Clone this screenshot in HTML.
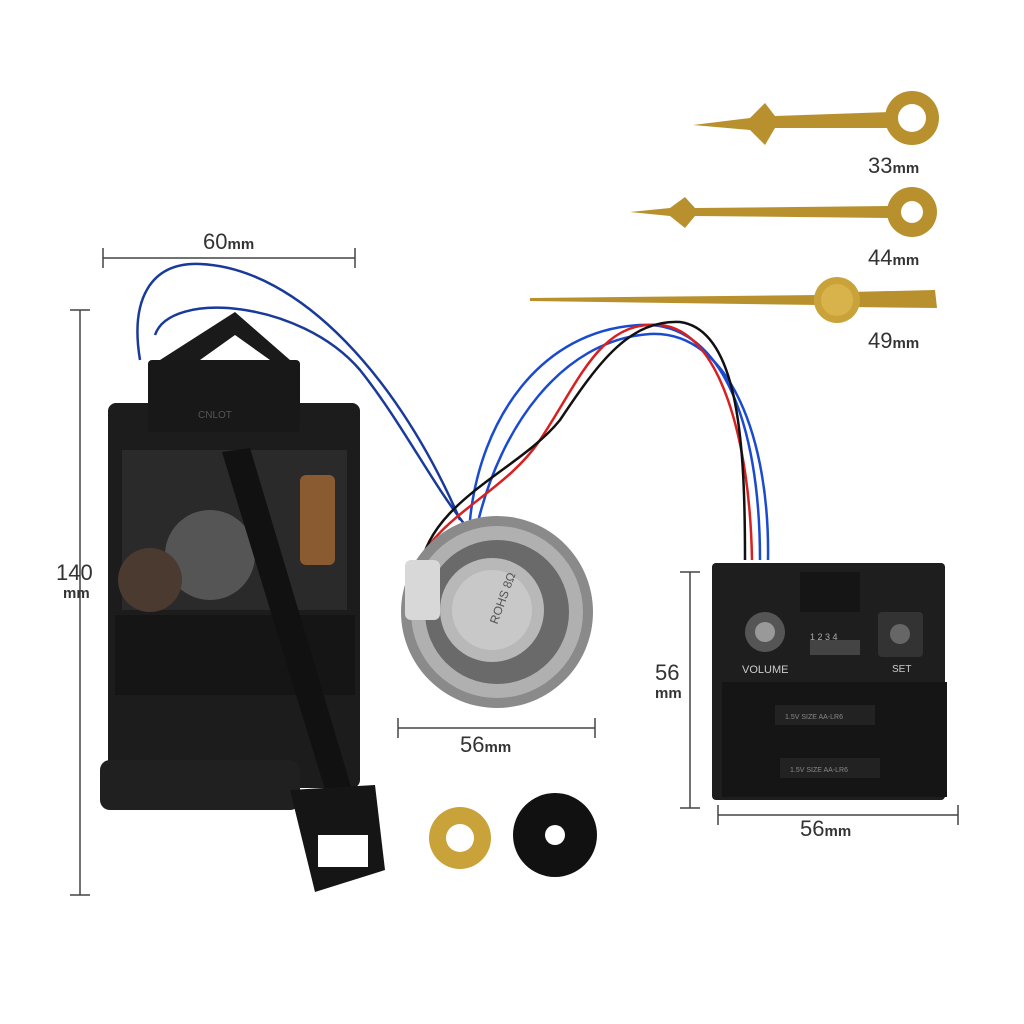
<!DOCTYPE html>
<html><head><meta charset="utf-8"><style>
html,body{margin:0;padding:0;background:#fff;}
svg{display:block;}
text{font-family:"Liberation Sans",sans-serif;fill:#333;}
</style></head><body>
<svg width="1024" height="1024" viewBox="0 0 1024 1024" xmlns="http://www.w3.org/2000/svg">
<rect width="1024" height="1024" fill="#fff"/>
<!-- dimension lines -->
<g stroke="#444" stroke-width="1.5" fill="none">
<line x1="103" y1="258" x2="355" y2="258"/><line x1="103" y1="248" x2="103" y2="268"/><line x1="355" y1="248" x2="355" y2="268"/>
<line x1="80" y1="310" x2="80" y2="895"/><line x1="70" y1="310" x2="90" y2="310"/><line x1="70" y1="895" x2="90" y2="895"/>
<line x1="398" y1="728" x2="595" y2="728"/><line x1="398" y1="718" x2="398" y2="738"/><line x1="595" y1="718" x2="595" y2="738"/>
<line x1="690" y1="572" x2="690" y2="808"/><line x1="680" y1="572" x2="700" y2="572"/><line x1="680" y1="808" x2="700" y2="808"/>
<line x1="718" y1="815" x2="958" y2="815"/><line x1="718" y1="805" x2="718" y2="825"/><line x1="958" y1="805" x2="958" y2="825"/>
</g>
<text x="203" y="249" font-size="22">60<tspan font-size="15" font-weight="bold">mm</tspan></text>
<text x="56" y="580" font-size="22">140</text><text x="63" y="598" font-size="15" font-weight="bold">mm</text>
<text x="460" y="752" font-size="22">56<tspan font-size="15" font-weight="bold">mm</tspan></text>
<text x="655" y="680" font-size="22">56</text><text x="655" y="698" font-size="15" font-weight="bold">mm</text>
<text x="800" y="836" font-size="22">56<tspan font-size="15" font-weight="bold">mm</tspan></text>
<text x="868" y="173" font-size="22">33<tspan font-size="15" font-weight="bold">mm</tspan></text>
<text x="868" y="265" font-size="22">44<tspan font-size="15" font-weight="bold">mm</tspan></text>
<text x="868" y="348" font-size="22">49<tspan font-size="15" font-weight="bold">mm</tspan></text>
<!-- hands -->
<g fill="#b8902e">
<path d="M693,125 L750,118 L765,103 L775,116 L890,112 L890,128 L775,128 L765,145 L750,130 Z"/>
<circle cx="912" cy="118" r="27"/>
<path d="M630,212 L670,208 L685,197 L695,208 L895,206 L895,218 L695,216 L685,228 L670,216 Z"/>
<circle cx="912" cy="212" r="25"/>
<path d="M530,298 L820,295 L820,305 L530,301 Z"/>
<path d="M850,292 L935,290 L937,308 L850,307 Z"/>
<circle cx="837" cy="300" r="23" fill="#c9a23a"/>
</g>
<circle cx="912" cy="118" r="14" fill="#fff"/>
<circle cx="912" cy="212" r="11" fill="#fff"/>
<circle cx="837" cy="300" r="16" fill="#d8b24a"/>
<!-- wires -->
<g fill="none" stroke-width="2.5">
<path d="M140,360 C130,300 150,262 200,264 C300,268 400,380 460,520" stroke="#1a3a9a"/>
<path d="M155,335 C170,290 300,300 360,370 C400,420 430,480 465,525" stroke="#1a3a9a"/>
<path d="M470,520 C480,420 540,330 640,325 C720,320 760,420 760,560" stroke="#1a4ad0"/>
<path d="M478,522 C500,430 560,340 650,334 C730,330 770,440 768,560" stroke="#1a4ad0"/>
<path d="M410,590 C420,520 500,500 540,440 C580,380 600,320 660,325 C720,330 750,440 752,560" stroke="#d82020"/>
<path d="M420,570 C430,500 520,470 560,420 C600,360 630,320 680,322 C740,330 745,450 745,560" stroke="#111"/>
</g>
<!-- clock movement -->
<polygon points="160,360 235,312 290,360 270,360 235,335 200,360" fill="#1a1a1a"/>
<rect x="108" y="403" width="252" height="385" rx="8" fill="#1c1c1c"/>
<rect x="122" y="450" width="225" height="160" fill="#2a2a2a"/>
<circle cx="210" cy="555" r="45" fill="#555"/>
<circle cx="150" cy="580" r="32" fill="#4a3a30"/>
<rect x="300" y="475" width="35" height="90" rx="6" fill="#8a5a30"/>
<rect x="115" y="615" width="240" height="80" fill="#151515"/>
<rect x="100" y="760" width="200" height="50" rx="10" fill="#202020"/>
<rect x="148" y="360" width="152" height="72" rx="4" fill="#181818"/>
<text x="198" y="418" font-size="10" fill="#444" style="fill:#555">CNLOT</text>
<polygon points="222,452 250,448 355,800 330,806" fill="#111"/>
<polygon points="290,790 375,785 385,870 315,892" fill="#151515"/>
<rect x="318" y="835" width="50" height="32" fill="#fff"/>
<!-- speaker -->
<circle cx="497" cy="612" r="96" fill="#8a8a8a"/>
<circle cx="497" cy="612" r="86" fill="#b0b0b0"/>
<circle cx="497" cy="612" r="72" fill="#6a6a6a"/>
<circle cx="492" cy="610" r="52" fill="#b8b8b8"/>
<circle cx="492" cy="610" r="40" fill="#c8c8c8"/>
<text x="480" y="620" font-size="12" transform="rotate(-70 492 610)" style="fill:#555">ROHS 8Ω</text>
<rect x="405" y="560" width="35" height="60" rx="6" fill="#d8d8d8"/>
<!-- washers -->
<circle cx="460" cy="838" r="31" fill="#c9a23a"/>
<circle cx="460" cy="838" r="14" fill="#fff"/>
<circle cx="555" cy="835" r="42" fill="#111"/>
<circle cx="555" cy="835" r="10" fill="#fff"/>
<!-- box -->
<rect x="712" y="563" width="233" height="237" rx="4" fill="#1e1e1e"/>
<rect x="800" y="572" width="60" height="40" fill="#151515"/>
<circle cx="765" cy="632" r="20" fill="#555"/>
<circle cx="765" cy="632" r="10" fill="#999"/>
<rect x="878" y="612" width="45" height="45" rx="4" fill="#333"/>
<circle cx="900" cy="634" r="10" fill="#666"/>
<rect x="810" y="640" width="50" height="15" fill="#444"/>
<text x="810" y="640" font-size="9" style="fill:#aaa">1 2 3 4</text>
<text x="742" y="673" font-size="11" style="fill:#ccc">VOLUME</text>
<text x="892" y="672" font-size="10" style="fill:#ccc">SET</text>
<rect x="722" y="682" width="225" height="115" fill="#151515"/>
<rect x="775" y="705" width="100" height="20" fill="#222"/>
<rect x="780" y="758" width="100" height="20" fill="#222"/>
<text x="785" y="719" font-size="7" style="fill:#888">1.5V SIZE AA-LR6</text>
<text x="790" y="772" font-size="7" style="fill:#888">1.5V SIZE AA-LR6</text>
</svg>
</body></html>
